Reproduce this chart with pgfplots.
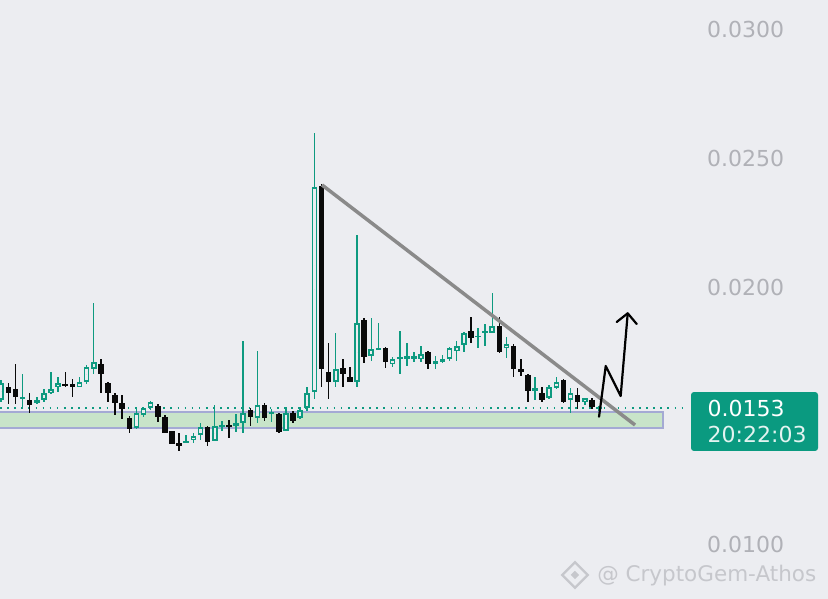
\documentclass[border=0pt]{standalone}
\usepackage{pgfplots}
\pgfplotsset{compat=1.18}
\usepackage{pgfplotstable}
\usepackage{fontspec}
\setmainfont{DejaVu Sans}
\definecolor{bg}{HTML}{ECEDF1}
\definecolor{cup}{HTML}{0E9A80}
\definecolor{cdn}{HTML}{0A0A0A}
\definecolor{lbl}{HTML}{B0B1B7}
\definecolor{bandfill}{HTML}{C8E4C9}
\definecolor{bandline}{HTML}{A4AAD4}
\definecolor{trend}{HTML}{8A8A8A}
\definecolor{pricebox}{HTML}{0A9A80}
\definecolor{wm}{HTML}{C6C7CC}

% up (green, hollow) candles: index, open, high, low, close
\pgfplotstableread{
k o h l c
1 0.015603 0.016381 0.015525 0.016264
4 0.015642 0.016614 0.015331 0.015720
6 0.015486 0.015720 0.015447 0.015603
7 0.015603 0.016031 0.015525 0.015875
8 0.015875 0.016692 0.015836 0.016031
9 0.016109 0.016498 0.015914 0.016264
12 0.016109 0.016498 0.016109 0.016303
13 0.016303 0.016965 0.016225 0.016887
14 0.016809 0.019377 0.016614 0.017081
20 0.014514 0.015331 0.014475 0.015097
21 0.015019 0.015331 0.014942 0.015292
22 0.015292 0.015564 0.015214 0.015525
27 0.013930 0.014241 0.013930 0.014008
28 0.014047 0.014319 0.013930 0.014202
29 0.014241 0.014708 0.014047 0.014553
31 0.014008 0.015408 0.014008 0.014591
32 0.014553 0.014786 0.014397 0.014630
34 0.014591 0.015058 0.014358 0.014708
35 0.014708 0.017900 0.014319 0.015097
37 0.014903 0.017509 0.014708 0.015408
39 0.015058 0.015253 0.014747 0.015136
41 0.014397 0.015331 0.014397 0.015097
43 0.014903 0.015331 0.014864 0.015214
44 0.015292 0.016109 0.015175 0.015875
45 0.015914 0.025992 0.015642 0.023891
48 0.016303 0.018210 0.016109 0.016809
51 0.016303 0.022023 0.016109 0.018599
53 0.017315 0.018793 0.017120 0.017587
54 0.017548 0.018599 0.017548 0.017626
56 0.017003 0.017276 0.016887 0.017198
57 0.017198 0.018288 0.016614 0.017276
58 0.017198 0.017821 0.016926 0.017315
59 0.017198 0.017470 0.017081 0.017315
60 0.017198 0.017704 0.017081 0.017393
62 0.017003 0.017315 0.016809 0.017120
63 0.017081 0.017354 0.017042 0.017198
64 0.017198 0.017665 0.017120 0.017626
65 0.017509 0.017900 0.017120 0.017704
66 0.017743 0.018249 0.017470 0.018210
68 0.018055 0.018405 0.017626 0.018094
69 0.018210 0.018560 0.017704 0.018288
70 0.018210 0.019766 0.018210 0.018482
72 0.017626 0.018055 0.017237 0.017782
76 0.015953 0.016498 0.015603 0.016070
78 0.015681 0.016187 0.015642 0.016109
79 0.016070 0.016498 0.016031 0.016303
81 0.015603 0.016070 0.015097 0.015875
83 0.015525 0.015681 0.015408 0.015681
85 0.015280 0.015370 0.015175 0.015300
}\tabup

% down (black, filled) candles
\pgfplotstableread{
k o h l c
2 0.016109 0.016264 0.015447 0.015875
3 0.016031 0.017003 0.015447 0.015720
5 0.015603 0.015875 0.015097 0.015408
10 0.016225 0.016692 0.016109 0.016148
11 0.016225 0.016420 0.015720 0.016109
15 0.017003 0.017198 0.015875 0.016614
16 0.016264 0.016303 0.015525 0.015875
17 0.015797 0.015875 0.015019 0.015486
18 0.015486 0.015797 0.014864 0.015253
19 0.014903 0.014981 0.014319 0.014475
23 0.015370 0.015447 0.014747 0.014942
24 0.014942 0.015019 0.014319 0.014319
25 0.014397 0.014397 0.013891 0.013891
26 0.013930 0.014319 0.013619 0.013813
30 0.014553 0.014591 0.013813 0.013969
33 0.014630 0.014825 0.014125 0.014553
36 0.015214 0.015292 0.014591 0.014942
38 0.015408 0.015486 0.014786 0.014903
40 0.015058 0.015097 0.014319 0.014358
42 0.015097 0.015175 0.014708 0.014786
46 0.023930 0.024008 0.016109 0.016809
47 0.016692 0.017821 0.015642 0.016303
49 0.016848 0.017198 0.016109 0.016614
50 0.016498 0.016887 0.016303 0.016303
52 0.018716 0.018793 0.017042 0.017276
55 0.017626 0.017665 0.016848 0.017081
61 0.017470 0.017509 0.016809 0.017003
67 0.018288 0.018832 0.017821 0.018016
71 0.018482 0.018832 0.017431 0.017470
73 0.017704 0.017782 0.016498 0.016809
74 0.016809 0.017198 0.016537 0.016692
75 0.016576 0.016614 0.015525 0.015953
77 0.015875 0.016109 0.015525 0.015603
80 0.016381 0.016420 0.015486 0.015525
82 0.015797 0.016070 0.015253 0.015525
84 0.015603 0.015681 0.015253 0.015331
}\tabdn

\pgfplotsset{candle/.style={forget plot, only marks, mark=*, mark size=0pt,
  mark options={draw=none, fill=none},
  error bars/.cd, y dir=both, y explicit, error mark=none}}

\begin{document}
\begin{tikzpicture}
\begin{axis}[name=ax,
  width=828bp, height=599bp, scale only axis,
  xmin=0.8314, xmax=117.17, ymin=0.007860, ymax=0.031167,
  axis background/.style={fill=bg},
  axis line style={draw=none},
  xtick=\empty,
  ytick={0.01,0.02,0.025,0.03},
  yticklabels={0.0100,0.0200,0.0250,0.0300},
  yticklabel pos=right,
  major tick length=0pt,
  scaled y ticks=false,
  yticklabel style={anchor=west, inner sep=0pt, xshift=-121bp, text=lbl,
    font=\fontsize{22bp}{26bp}\selectfont},
]
% support band
\addplot[forget plot, fill=bandfill, draw=bandline, line width=1.5bp]
  coordinates {(0.5,0.014514) (93.99,0.014514) (93.99,0.015136) (0.5,0.015136)} -- cycle;
% current price dotted line
\addplot[forget plot, cup, line width=1.6bp, dash pattern=on 1.6bp off 5.5bp]
  coordinates {(0.8314,0.0153) (97.36,0.0153)};
% wicks
\addplot[candle, error bar style={draw=cup, line width=1.5bp}]
  table[x=k, y expr={(\thisrow{h}+\thisrow{l})/2}, y error expr={(\thisrow{h}-\thisrow{l})/2}] {\tabup};
\addplot[candle, error bar style={draw=cdn, line width=1.5bp}]
  table[x=k, y expr={(\thisrow{h}+\thisrow{l})/2}, y error expr={(\thisrow{h}-\thisrow{l})/2}] {\tabdn};
% bodies
\addplot[candle, error bar style={draw=cup, line width=5.6bp}]
  table[x=k, y expr={(\thisrow{o}+\thisrow{c})/2}, y error expr={max(abs(\thisrow{c}-\thisrow{o})/2,0.00003)}] {\tabup};
\addplot[candle, error bar style={draw=bg, line width=2.4bp}]
  table[x=k, y expr={(\thisrow{o}+\thisrow{c})/2}, y error expr={max(abs(\thisrow{c}-\thisrow{o})/2-0.0000623,0)}] {\tabup};
\addplot[candle, error bar style={draw=cdn, line width=5.6bp}]
  table[x=k, y expr={(\thisrow{o}+\thisrow{c})/2}, y error expr={max(abs(\thisrow{c}-\thisrow{o})/2,0.00003)}] {\tabdn};
% trend line
\addplot[forget plot, trend, line width=3.5bp]
  coordinates {(46.08,0.023969) (90.06,0.014630)};
% hand-drawn arrow
\addplot[forget plot, black, line width=2.2bp, line join=round, line cap=round]
  coordinates {(85.0,0.014953) (85.94,0.016926) (88.04,0.015759) (89.03,0.018976)};
\addplot[forget plot, black, line width=2.2bp, line join=round, line cap=round]
  coordinates {(87.48,0.018638) (89.03,0.018976) (90.29,0.018560)};
% price label
\fill[pricebox, rounded corners=3bp] (axis cs:97.92,0.013619) rectangle (axis cs:115.77,0.015914);
\node[anchor=base west, inner sep=0pt, text=white, font=\fontsize{22bp}{26bp}\selectfont]
  at (axis cs:100.24,0.014953) {0.0153};
\node[anchor=base west, inner sep=0pt, text=white!88!cup, font=\fontsize{22bp}{26bp}\selectfont]
  at (axis cs:100.24,0.013942) {20:22:03};
% watermark
\node[anchor=base west, inner sep=0pt, text=wm, font=\fontsize{21.5bp}{26bp}\selectfont]
  at (axis cs:84.72,0.008560) {@ CryptoGem-Athos};
\node[draw=wm, line width=2.4bp, rotate=45, minimum size=18bp, inner sep=0pt] at (axis cs:81.62,0.008794) {};
\node[fill=wm, rotate=45, minimum size=6bp, inner sep=0pt] at (axis cs:81.62,0.008794) {};
\end{axis}
\pgfresetboundingbox
\path[use as bounding box] (ax.south west) rectangle (ax.north east);
\end{tikzpicture}
\end{document}
